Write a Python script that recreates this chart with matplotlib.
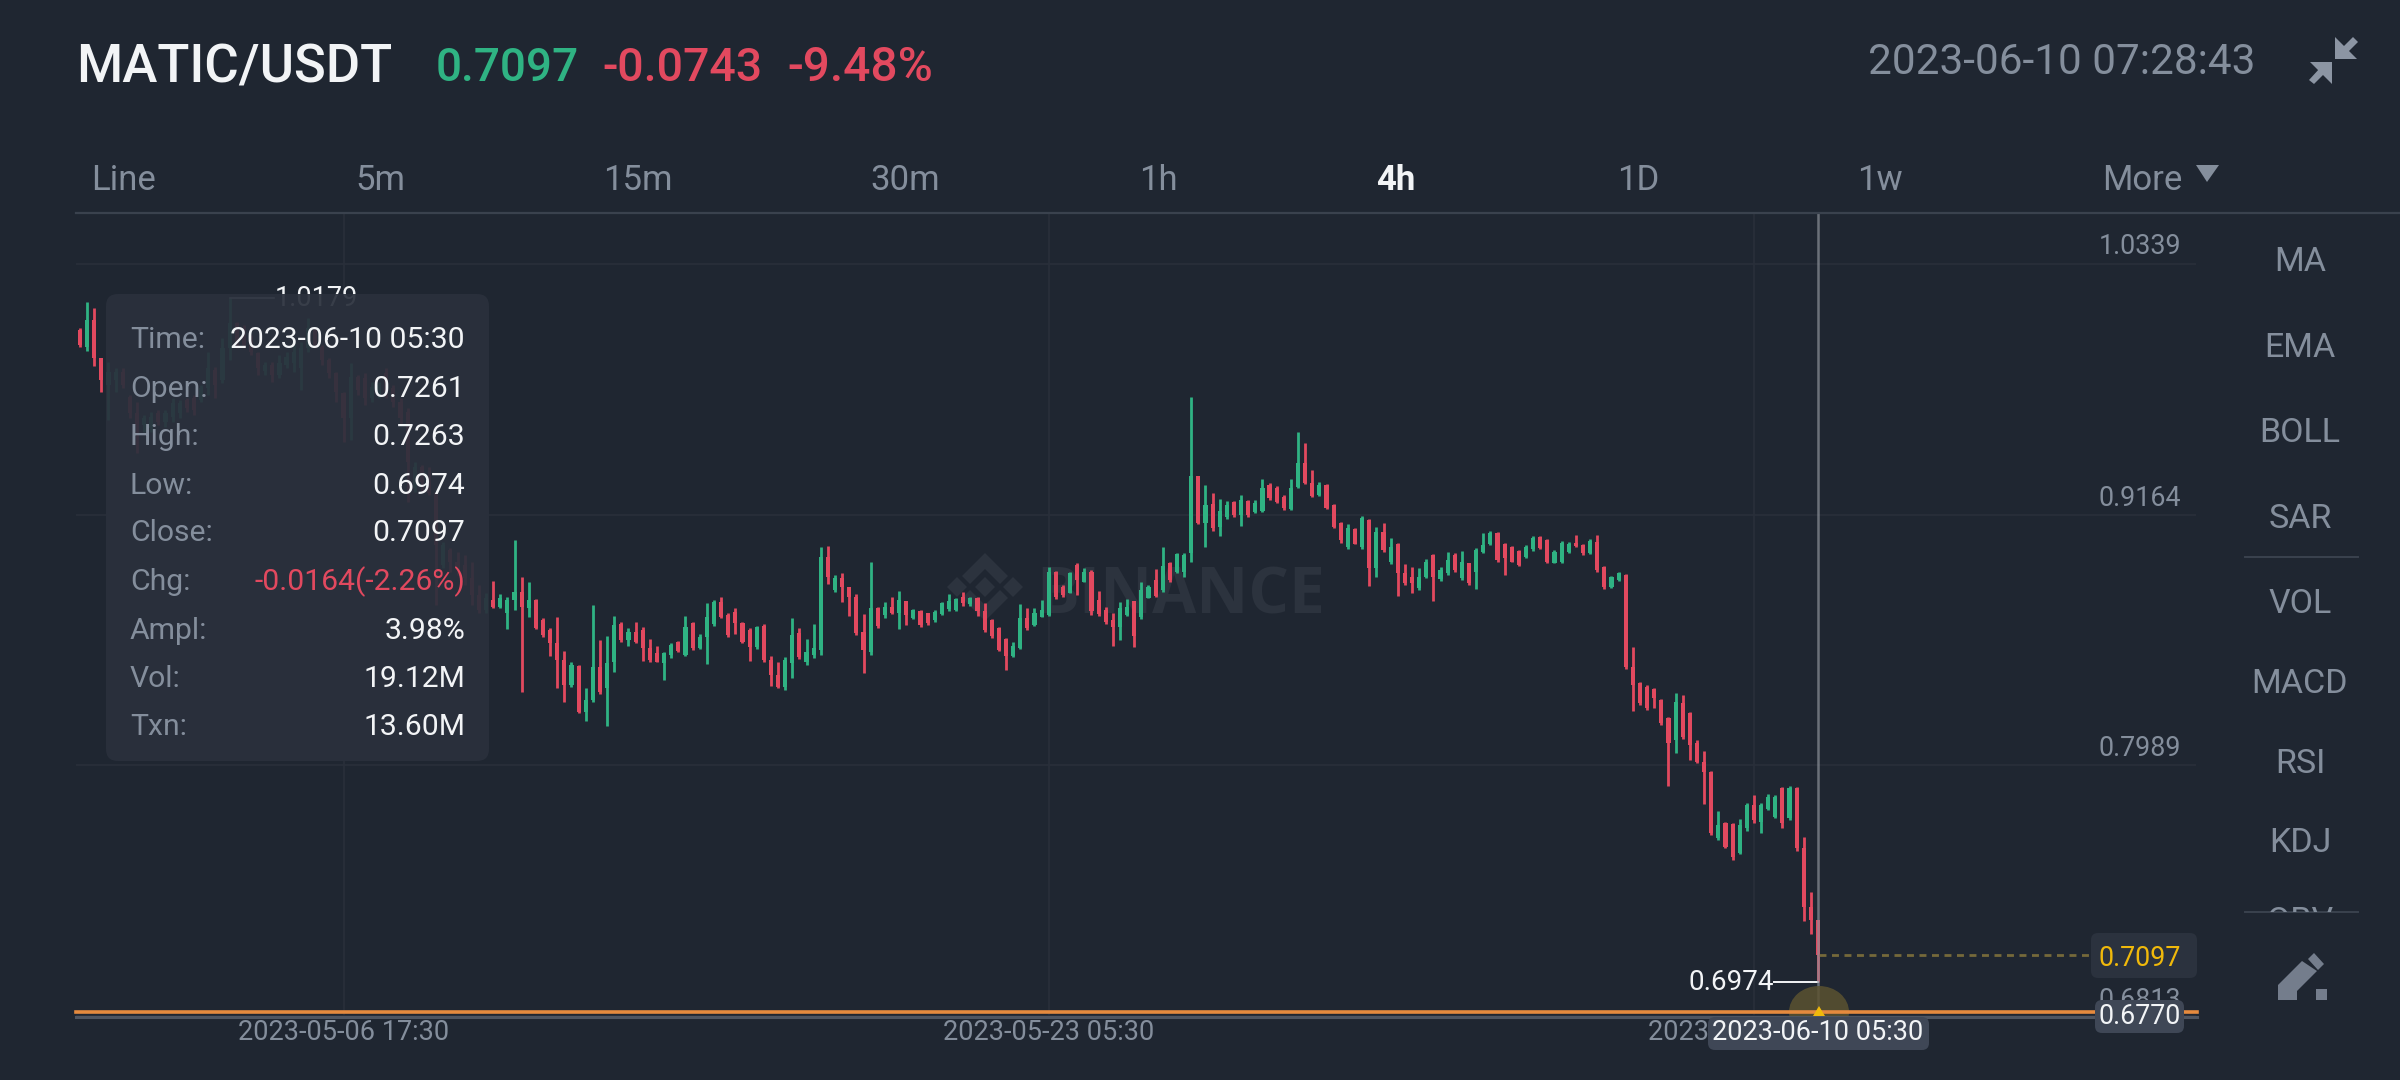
import matplotlib
matplotlib.use('Agg')
import matplotlib.pyplot as plt
from matplotlib.patches import FancyBboxPatch, Polygon, Ellipse, Rectangle

plt.rcParams['font.family'] = ['Roboto', 'DejaVu Sans']

# 4h candles
opens = [
    1.0030, .9951, 1.0077, .9899, .9772, .9796, .9831, .9717, .9639, .9585,
    .9569, .9639, .9600, .9624, .9639, .9702, .9710, .9702, .9756, .9842,
    .9796, .9944, 1.0061, 1.0007, .9975, .9921, .9838, .9866, .9819, .9866,
    .9874, .9850, .9944, 1.0030, .9952, .9889, .9827, .9733, .9616, .9811,
    .9803, .9710, .9725, .9827, .9756, .9694, .9647, .9288, .9389, .9319,
    .9264, .8928, .8999, .8944, .8928, .8866, .8787, .8717, .8764, .8733,
    .8702, .8764, .8803, .8725, .8764, .8670, .8623, .8561, .8483, .8366,
    .8456, .8240, .8295, .8451, .8350, .8475, .8652, .8577, .8616, .8623,
    .8537, .8514, .8467, .8506, .8569, .8506, .8655, .8537, .8592, .8652,
    .8756, .8694, .8709, .8655, .8623, .8545, .8644, .8483, .8412, .8358,
    .8467, .8608, .8475, .8506, .8530, .8967, .8811, .8866, .8823, .8780,
    .8616, .8522, .8728, .8694, .8733, .8702, .8757, .8678, .8714, .8702,
    .8668, .8699, .8721, .8718, .8780, .8746, .8772, .8710, .8671, .8632,
    .8580, .8499, .8538, .8678, .8647, .8686, .8694, .8897, .8827, .8799,
    .8929, .8850, .8897, .8764, .8718, .8671, .8639, .8694, .8757, .8686,
    .8774, .8858, .8811, .8936, .8893, .8897, .8983, .9343, .9124, .9215,
    .9108, .9152, .9225, .9163, .9228, .9175, .9183, .9303, .9288, .9248,
    .9192, .9295, .9405, .9311, .9256, .9303, .9209, .9123, .9011, .9097,
    .9014, .9139, .8912, .9084, .8944, .9027, .8889, .8873, .8819, .8873,
    .8975, .8861, .8889, .8975, .8866, .8936, .8897, .8991, .9027, .9077,
    .9027, .9011, .8994, .8967, .9002, .9061, .9045, .8939, .8944, .8991,
    .9030, .9022, .8983, .9037, .8920, .8827, .8858, .8881, .8448, .8373,
    .8357, .8345, .8295, .8209, .8107, .8279, .8232, .8092, .8006, .7956,
    .7646, .7720, .7713, .7576, .7693, .7803, .7724, .7785, .7748, .7881,
    .7740, .7881, .7599, .7326, .7261,
]
highs = [
    1.0040, 1.0162, 1.0133, .9899, .9882, .9850, .9850, .9725, .9694, .9631,
    .9647, .9655, .9655, .9710, .9702, .9710, .9725, .9772, .9928, .9858,
    .9991, 1.0179, 1.0069, 1.0053, 1.0007, .9928, .9882, .9882, .9913, .9928,
    .9960, .9975, 1.0085, 1.0038, .9960, .9897, .9835, .9741, .9874, .9819,
    .9827, .9788, .9788, .9850, .9772, .9710, .9663, .9413, .9397, .9389,
    .9272, .9038, .9006, .8991, .8975, .8944, .8834, .8795, .8853, .8791,
    .8780, .9045, .8870, .8850, .8769, .8678, .8631, .8686, .8525, .8472,
    .8459, .8350, .8739, .8577, .8597, .8691, .8659, .8631, .8663, .8636,
    .8580, .8548, .8522, .8561, .8573, .8688, .8663, .8603, .8752, .8764,
    .8777, .8705, .8725, .8659, .8631, .8644, .8650, .8502, .8475, .8495,
    .8678, .8631, .8581, .8650, .9014, .9017, .8881, .8892, .8827, .8791,
    .8697, .8941, .8733, .8753, .8780, .8808, .8761, .8722, .8717, .8705,
    .8717, .8753, .8792, .8775, .8800, .8780, .8780, .8749, .8675, .8635,
    .8585, .8566, .8744, .8725, .8728, .8764, .8918, .8902, .8832, .8894,
    .8936, .8913, .8905, .8808, .8733, .8705, .8753, .8769, .8761, .8847,
    .8832, .8910, .9011, .8944, .8986, .8983, .9715, .9346, .9304, .9265,
    .9238, .9226, .9230, .9256, .9231, .9233, .9330, .9311, .9299, .9256,
    .9330, .9550, .9499, .9374, .9319, .9308, .9213, .9131, .9119, .9100,
    .9158, .9144, .9108, .9123, .9053, .9030, .8931, .8920, .8912, .8955,
    .8978, .8920, .8987, .8983, .8995, .8939, .9009, .9077, .9088, .9081,
    .9033, .9017, .8998, .9022, .9063, .9064, .9048, .8998, .9042, .9037,
    .9069, .9027, .9050, .9070, .8925, .8877, .8894, .8886, .8542, .8378,
    .8365, .8350, .8298, .8214, .8329, .8318, .8237, .8107, .8056, .7960,
    .7774, .7724, .7717, .7737, .7810, .7849, .7813, .7853, .7849, .7885,
    .7890, .7885, .7651, .7396, .7263,
]
lows = [
    .9951, .9932, .9861, .9740, .9608, .9741, .9756, .9616, .9452, .9553,
    .9553, .9585, .9577, .9600, .9616, .9647, .9631, .9694, .9725, .9710,
    .9780, .9889, .9944, .9944, .9913, .9819, .9819, .9788, .9803, .9850,
    .9835, .9749, .9928, .9944, .9866, .9803, .9694, .9506, .9514, .9725,
    .9678, .9694, .9710, .9710, .9670, .9585, .9225, .9272, .9272, .9256,
    .8741, .8912, .8897, .8881, .8834, .8741, .8701, .8701, .8728, .8728,
    .8628, .8717, .8331, .8683, .8628, .8592, .8503, .8353, .8284, .8358,
    .8233, .8198, .8284, .8322, .8173, .8425, .8569, .8548, .8561, .8478,
    .8475, .8472, .8389, .8494, .8520, .8503, .8530, .8534, .8464, .8642,
    .8678, .8592, .8605, .8561, .8478, .8534, .8475, .8361, .8353, .8342,
    .8397, .8486, .8459, .8494, .8506, .8838, .8803, .8753, .8691, .8600,
    .8420, .8506, .8631, .8681, .8697, .8628, .8647, .8675, .8639, .8647,
    .8663, .8694, .8714, .8714, .8738, .8738, .8691, .8616, .8585, .8525,
    .8435, .8496, .8533, .8624, .8642, .8682, .8691, .8769, .8780, .8796,
    .8788, .8846, .8694, .8691, .8653, .8549, .8577, .8691, .8542, .8675,
    .8771, .8777, .8803, .8850, .8889, .8874, .8941, .9121, .9011, .9088,
    .9066, .9144, .9155, .9113, .9155, .9172, .9175, .9233, .9217, .9186,
    .9186, .9291, .9306, .9245, .9252, .9189, .9100, .9033, .9003, .9025,
    .9002, .8831, .8870, .8991, .8933, .8784, .8834, .8798, .8809, .8866,
    .8761, .8855, .8881, .8894, .8856, .8834, .8816, .8983, .9022, .8944,
    .8881, .8941, .8922, .8962, .8995, .9002, .8936, .8936, .8936, .8983,
    .9011, .8975, .8978, .8895, .8814, .8819, .8854, .8440, .8243, .8271,
    .8248, .8259, .8178, .7893, .8048, .8114, .8015, .7998, .7807, .7662,
    .7638, .7602, .7545, .7571, .7682, .7720, .7670, .7779, .7740, .7696,
    .7734, .7587, .7259, .7198, .6974,
]
closes = [
    .9960, 1.0077, .9899, .9796, .9835, .9831, .9772, .9639, .9585, .9616,
    .9624, .9600, .9639, .9686, .9686, .9663, .9655, .9756, .9850, .9772,
    .9944, 1.0061, .9967, .9960, .9928, .9850, .9866, .9819, .9874, .9905,
    .9928, .9944, 1.0038, .9960, .9889, .9827, .9741, .9616, .9811, .9749,
    .9710, .9764, .9772, .9741, .9694, .9616, .9413, .9389, .9319, .9264,
    .9022, .9022, .8944, .8912, .8866, .8787, .8717, .8772, .8730, .8772,
    .8764, .8803, .8730, .8764, .8631, .8600, .8561, .8483, .8366, .8459,
    .8240, .8295, .8451, .8334, .8467, .8647, .8577, .8616, .8569, .8537,
    .8483, .8475, .8514, .8553, .8526, .8639, .8537, .8592, .8686, .8756,
    .8686, .8600, .8655, .8569, .8545, .8639, .8483, .8412, .8358, .8483,
    .8600, .8498, .8522, .8537, .8967, .8873, .8866, .8827, .8780, .8608,
    .8530, .8725, .8642, .8733, .8702, .8764, .8694, .8717, .8647, .8655,
    .8707, .8749, .8757, .8769, .8749, .8772, .8710, .8624, .8593, .8530,
    .8499, .8546, .8678, .8632, .8702, .8718, .8897, .8780, .8788, .8889,
    .8858, .8897, .8710, .8697, .8663, .8639, .8725, .8733, .8593, .8811,
    .8824, .8783, .8921, .8858, .8980, .8975, .9343, .9124, .9210, .9100,
    .9179, .9210, .9163, .9233, .9163, .9217, .9288, .9241, .9225, .9194,
    .9288, .9405, .9311, .9252, .9303, .9194, .9108, .9045, .9100, .9027,
    .9147, .8912, .9084, .8998, .9014, .8889, .8842, .8842, .8873, .8944,
    .8873, .8905, .8952, .8905, .8944, .8842, .8998, .9022, .9077, .8952,
    .8959, .8944, .8928, .9011, .9053, .9006, .8944, .8991, .9030, .9027,
    .9017, .8983, .9042, .8905, .8827, .8870, .8889, .8448, .8365, .8279,
    .8256, .8303, .8185, .8092, .8287, .8123, .8084, .8006, .7959, .7670,
    .7709, .7607, .7560, .7709, .7803, .7732, .7803, .7842, .7842, .7717,
    .7881, .7599, .7326, .7261, .7097,
]

price_ticks = [1.0339, 0.9164, 0.7989, 0.6813]
date_ticks = [37, 136, 235]
date_labels = ['2023-05-06 17:30', '2023-05-23 05:30', '2023-06-08 17:30']
tabs = ['Line', '5m', '15m', '30m', '1h', '4h', '1D', '1w', 'More']
indicators = ['MA', 'EMA', 'BOLL', 'SAR', 'VOL', 'MACD', 'RSI', 'KDJ', 'OBV']
tip_names = ['Time:', 'Open:', 'High:', 'Low:', 'Close:', 'Chg:', 'Ampl:', 'Vol:', 'Txn:']
tip_values = ['2023-06-10 05:30', '0.7261', '0.7263', '0.6974', '0.7097',
              '-0.0164(-2.26%)', '3.98%', '19.12M', '13.60M']

BG = '#1f2631'
RED = '#e2495f'
GREEN = '#2fb383'
GREY = '#848e9c'
WHITE = '#f2f4f6'
YELLOW = '#f0b90b'
GRID = '#292f3a'

W, H = 2400, 1080
fig = plt.figure(figsize=(24, 10.8), dpi=100, facecolor=BG)


def pixel_axes(z):
    a = fig.add_axes([0, 0, 1, 1], zorder=z)
    a.set_xlim(0, W)
    a.set_ylim(H, 0)
    a.axis('off')
    return a


# watermark sits under the candles
bg = pixel_axes(0)
mark = '#2c333e'
for pts in [
    [(985, 553), (1008, 576), (1000, 584), (985, 569), (970, 584), (962, 576)],
    [(985, 621), (1008, 598), (1000, 590), (985, 605), (970, 590), (962, 598)],
    [(985, 577), (995, 587), (985, 597), (975, 587)],
    [(957, 577), (967, 587), (957, 597), (947, 587)],
    [(1013, 577), (1023, 587), (1013, 597), (1003, 587)],
]:
    bg.add_patch(Polygon(pts, closed=True, color=mark, lw=0))
bg.text(1036, 597, 'BINANCE', color=mark, fontsize=46, fontweight='bold',
        family=['Open Sans', 'DejaVu Sans'], ha='left', va='center')

# price chart
ax = fig.add_axes([76 / W, 1 - 1016 / H, (2196 - 76) / W, (1016 - 214) / H], zorder=1)
ax.patch.set_alpha(0)
ax.set_xlim(-0.56, 297.06)
ax.set_ylim(0.6813, 1.0574)
ax.axis('off')

for p in price_ticks:
    ax.axhline(p, color=GRID, lw=1.2, zorder=1)
for d in date_ticks:
    ax.axvline(d, color=GRID, lw=1.2, zorder=1)

idx = list(range(len(closes)))
colors = [GREEN if c >= o else RED for o, c in zip(opens, closes)]
ax.vlines(idx, lows, highs, colors=colors, lw=2.0, zorder=3)
ax.bar(idx, [abs(c - o) for o, c in zip(opens, closes)],
       bottom=[min(o, c) for o, c in zip(opens, closes)],
       width=0.58, color=colors, lw=0, zorder=3)

# high and low markers
ax.plot([21, 27.2], [max(highs), max(highs)], color='#c8ccd2', lw=1.2, zorder=4)
ax.text(27.4, max(highs), '1.0179', color=WHITE, fontsize=19.5, ha='left', va='center', zorder=4)
ax.plot([244, 237.8], [min(lows), min(lows)], color=WHITE, lw=1.4, zorder=4)
ax.text(237.8, min(lows) - 0.0005, '0.6974', color=WHITE, fontsize=20, ha='right', va='center', zorder=4)

# crosshair
ax.axvline(244, color='#8b9099', lw=1.8, alpha=0.7, zorder=5)
ax.plot([244.2, 282], [closes[-1], closes[-1]], color='#75693a', lw=2, ls=(0, (2.5, 2)), zorder=4)

ui = pixel_axes(2)


def label(x, y, s, color=GREY, size=25, ha='center', **kw):
    kw.setdefault('zorder', 3)
    return ui.text(x, y, s, color=color, fontsize=size, ha=ha, va='center', **kw)


def round_box(x0, y0, x1, y1, color, alpha=1.0, r=7, z=2):
    ui.add_patch(FancyBboxPatch((x0 + r, y0 + r), x1 - x0 - 2 * r, y1 - y0 - 2 * r,
                                boxstyle=f'round,pad={r},rounding_size={r}',
                                fc=color, ec='none', alpha=alpha, zorder=z))


# header
label(76, 68, 'MATIC/USDT', WHITE, 38, ha='left', fontweight='medium')
label(436, 68, '0.7097', GREEN, 33, ha='left', fontweight='medium')
label(602, 68, '-0.0743', RED, 33.5, ha='left', fontweight='medium')
label(787, 68, '-9.48%', RED, 34.5, ha='left', fontweight='medium')
label(2255, 63, '2023-06-10 07:28:43', GREY, 30.4, ha='right')
icon = '#8c95a3'
for pts in [
    [(2335, 37), (2335, 59), (2357, 59)],
    [(2353, 37), (2358, 42), (2347, 53), (2342, 48)],
    [(2332, 62), (2310, 62), (2332, 84)],
    [(2309, 80), (2314, 84), (2325, 73), (2320, 68)],
]:
    ui.add_patch(Polygon(pts, closed=True, color=icon, lw=0))

# interval tabs
tab_x = [124, 380, 638, 905, 1158, 1396, 1638, 1880, 2142]
for name, x in zip(tabs, tab_x):
    if name == '4h':
        label(x, 180, name, WHITE, 25, fontweight='bold')
    else:
        label(x, 180, name, GREY, 25)
ui.add_patch(Polygon([(2196, 165), (2219, 165), (2207, 182)], closed=True, color=GREY, lw=0))
ui.plot([76, W], [213, 213], color='#3a424e', lw=1.6)

# indicator menu, OBV is scrolled off so only its top shows above the rule
menu_y = [262, 348, 433, 519, 604, 684, 764, 843, 922]
for name, y in zip(indicators, menu_y):
    t = label(2300, y, name, GREY, 24.5)
    if name == 'OBV':
        t.set_clip_on(True)
        t.set_clip_path(Rectangle((2200, 860), 200, 52, transform=ui.transData))
ui.plot([2245, 2358], [557, 557], color='#3a424e', lw=1.4)
ui.plot([2245, 2358], [912, 912], color='#3a424e', lw=1.4)
pen = '#747d8c'
for pts in [
    [(2278, 1000), (2278, 985), (2302, 961), (2317, 971), (2297, 991), (2297, 1000)],
    [(2308, 959), (2314, 953), (2324, 964), (2318, 970)],
    [(2316, 989), (2327, 989), (2327, 1000), (2316, 1000)],
]:
    ui.add_patch(Polygon(pts, closed=True, color=pen, lw=0))

# price and date labels
for p, y in zip(price_ticks, [247, 498, 749, 1000]):
    label(2181, y, f'{p:.4f}', GREY, 19.4, ha='right')
for d, s in zip(date_ticks, date_labels):
    x = 80 + d * 7.123
    label(x, 1032, s, GREY, 19.5)

# tooltip
round_box(106, 294, 489, 761, '#2a303c', alpha=0.93, r=12)
tip_y = [340, 389, 437, 486, 533, 582, 631, 679, 727]
for name, val, y in zip(tip_names, tip_values, tip_y):
    label(130, y, name, GREY, 21.7, ha='left')
    label(465, y, val, RED if name == 'Chg:' else WHITE, 21.7, ha='right')

# current price and crosshair tags
round_box(2091, 933, 2197, 978, '#2b323e')
label(2181, 959, '0.7097', YELLOW, 19.4, ha='right')
ui.add_patch(Ellipse((1819, 1012), 60, 52, fc='#5b5230', ec='none', alpha=0.85, zorder=2))
ui.plot([76, 2197], [1017, 1017], color='#4e5561', lw=2.2, zorder=4)
ui.plot([76, 2197], [1012, 1012], color='#e58a3e', lw=2.6, zorder=4)
ui.add_patch(Polygon([(1813, 1016), (1825, 1016), (1819, 1006)], closed=True, color=YELLOW, lw=0, zorder=4))
round_box(2095, 1000, 2184, 1033, '#3f4756', z=5)
label(2181, 1016, '0.6770', WHITE, 19.4, ha='right', zorder=6)
round_box(1708, 1017, 1929, 1050, '#3f4756', z=5)
label(1818, 1032, '2023-06-10 05:30', WHITE, 19.5, zorder=6)

fig.savefig('out.png', dpi=100, facecolor=BG)
plt.close(fig)
